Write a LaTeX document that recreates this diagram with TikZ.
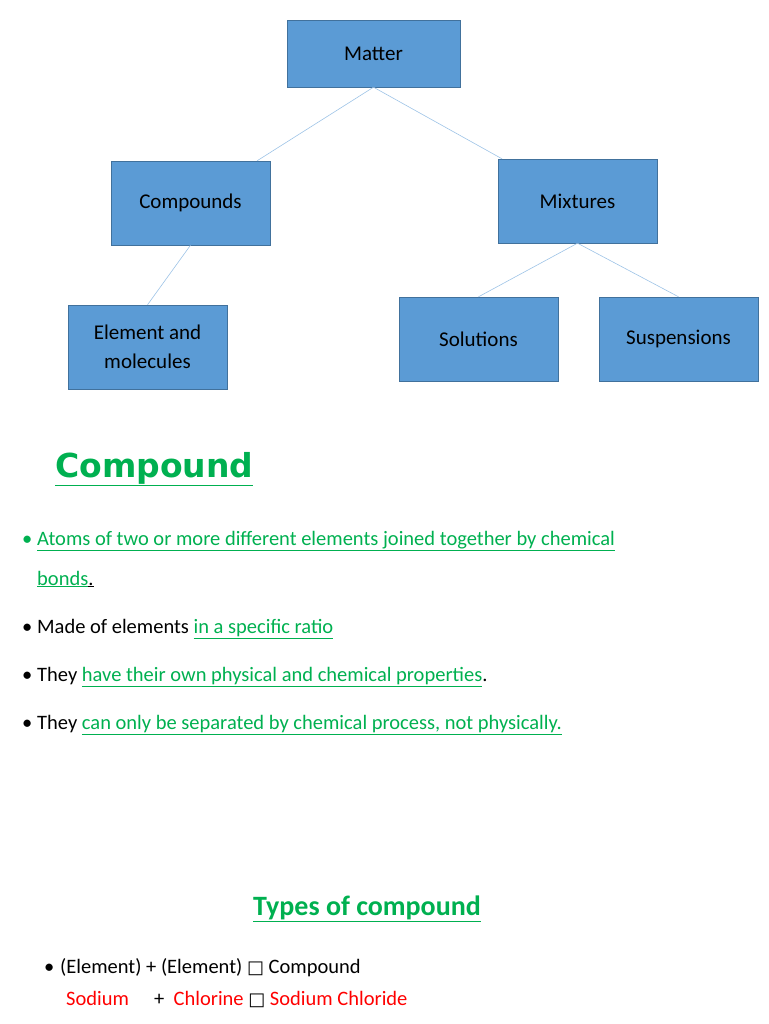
\documentclass[tikz,border=0pt]{standalone}
\usepackage{fontspec}
\setmainfont{Carlito}
\newfontfamily\dvs{DejaVu Sans}
\newcommand\myul[1]{\underline{#1}}
\definecolor{boxfill}{HTML}{5B9BD5}
\definecolor{boxline}{HTML}{41719C}
\definecolor{grn}{HTML}{00B050}
\definecolor{lnk}{HTML}{9DC3E6}
\begin{document}
\begin{tikzpicture}[x=1pt,y=-1pt,
  box/.style={draw=boxline,fill=boxfill,minimum width=159pt,minimum height=84pt,align=center,font=\fontsize{21}{29}\selectfont,inner sep=0pt},
  link/.style={draw=lnk,line width=0.6pt},
  txt/.style={anchor=base west,inner sep=0pt,font=\fontsize{20.5}{24}\selectfont}]
\useasboundingbox (0,0) rectangle (768,1024);
\node[box,minimum width=173pt,minimum height=67pt] (m) at (373.5,53.5) {Matter};
\node[box] (c) at (190.5,203) {Compounds};
\node[box] (x) at (577.5,201) {Mixtures};
\node[box] (e) at (147.5,347) {Element and\\molecules};
\node[box] (s) at (478.5,339) {Solutions};
\node[box] (u) at (678.5,339) {Suspensions};
\draw[link] (m.south) -- (c);
\draw[link] (m.south) -- (x);
\draw[link] (c.south) -- (e.north);
\draw[link] (x.south) -- (s.north);
\draw[link] (x.south) -- (u.north);
\node[anchor=base west,inner sep=0pt,text=grn,font=\dvs\bfseries\fontsize{33}{36}\selectfont] (h1) at (55,477) {\myul{Compound}};
\node[txt,text=grn] (b1) at (22,545) {•};
\node[txt,text=grn] (t1) at (37,545) {\myul{Atoms of two or more different elements joined together by chemical}};
\node[txt,text=grn] (t1b) at (37,585) {\myul{bonds}\color{black}\myul{.}};
\node[txt] (b2) at (22,633) {•};
\node[txt] (t2) at (37,633) {Made of elements \color{grn}\myul{in a specific ratio}};
\node[txt] (b3) at (22,681) {•};
\node[txt] (t3) at (37,681) {They \color{grn}\myul{have their own physical and chemical properties}\color{black}.};
\node[txt] (b4) at (22,729) {•};
\node[txt] (t4) at (37,729) {They \color{grn}\myul{can only be separated by chemical process, not physically.}};
\node[anchor=base,inner sep=0pt,text=grn,font=\bfseries\fontsize{28}{32}\selectfont] (h2) at (367,915) {\myul{Types of compound}};
\node[txt] (b5) at (44,973) {•};
\node[txt] (t5) at (60,973) {(Element) + (Element) {\dvs\fontsize{18}{20}\selectfont □} Compound};
\node[txt] (t6) at (66,1005) {\color{red}Sodium \quad\color{black}+\ \ \color{red}Chlorine \color{black}{\dvs\fontsize{18}{20}\selectfont □} \color{red}Sodium Chloride};
\end{tikzpicture}
\end{document}
